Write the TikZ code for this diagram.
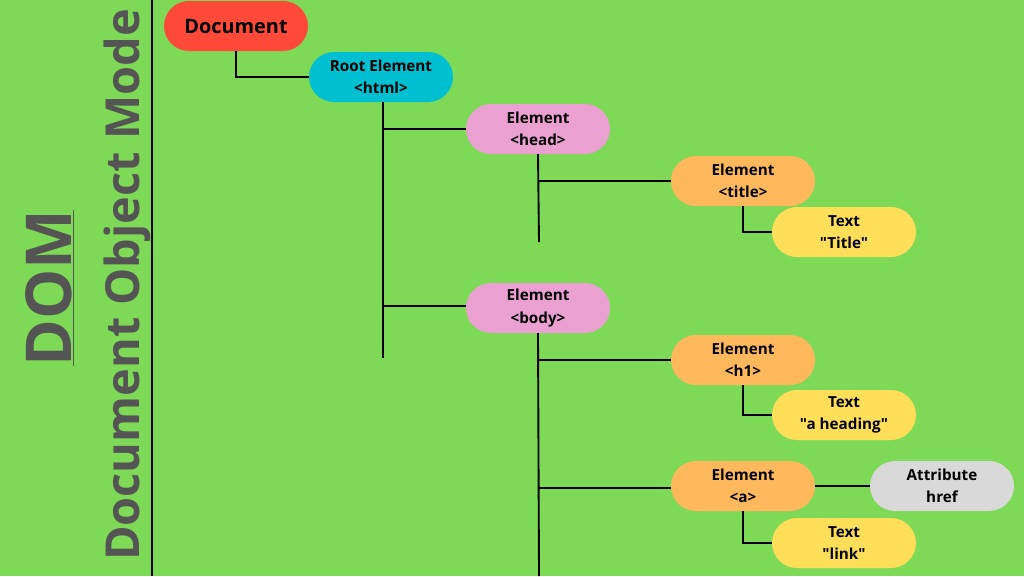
\documentclass[tikz,border=0pt]{standalone}
\usepackage{fontspec}
\setmainfont{Open Sans}[Ligatures=TeXOff]
\usetikzlibrary{shapes.misc}
\definecolor{bg}{HTML}{7ED957}
\definecolor{cred}{HTML}{FF4A3A}
\definecolor{ccyan}{HTML}{00BFD0}
\definecolor{cpink}{HTML}{EBA0D2}
\definecolor{corange}{HTML}{FFB85C}
\definecolor{cyellow}{HTML}{FFDE59}
\definecolor{cgray}{HTML}{D9D9D9}
\definecolor{dgray}{HTML}{545454}
\begin{document}
\begin{tikzpicture}[x=0.03cm,y=-0.03cm,
  pill/.style={rounded rectangle,minimum width=4.32cm,minimum height=1.5cm,inner sep=0pt,align=center,font=\bfseries\fontsize{13}{19}\selectfont,text=black},
  ln/.style={line width=1.6pt,black}]
\fill[bg] (0,0) rectangle (1024,576);
\useasboundingbox (0,0) rectangle (1024,576);
\draw[ln] (152,0) -- (152,576);
\node[rotate=90,font=\bfseries\fontsize{54}{54}\selectfont,text=dgray] (dom) at (50,288) {\underline{DOM}};
\node[rotate=90,font=\bfseries\fontsize{40}{40}\selectfont,text=dgray] (dom2) at (127,285) {Document Object Mode};
\node[pill,fill=cred,font=\bfseries\fontsize{17}{19}\selectfont] (doc) at (236,26) {Document};
\node[pill,fill=ccyan] (html) at (381,77) {Root Element\\<html>};
\node[pill,fill=cpink] (head) at (538,129) {Element\\<head>};
\node[pill,fill=corange] (title) at (743,181) {Element\\<title>};
\node[pill,fill=cyellow] (ttitle) at (844,232) {Text\\"Title"};
\node[pill,fill=cpink] (body) at (538,308) {Element\\<body>};
\node[pill,fill=corange] (h1) at (743,360) {Element\\<h1>};
\node[pill,fill=cyellow] (th1) at (844,415) {Text\\"a heading"};
\node[pill,fill=corange] (a) at (743,486) {Element\\<a>};
\node[pill,fill=cgray] (href) at (942,486) {Attribute\\href};
\node[pill,fill=cyellow] (ta) at (844,543) {Text\\"link"};
\coordinate (s1) at (383,102);
\coordinate (e1) at (383,358);
\coordinate (e2) at (539,242);
\coordinate (e3) at (539,576);
\draw[ln] (doc.south) |- (html.west);
\draw[ln] (s1) -- (e1);
\draw[ln] (383,129) -- (head.west);
\draw[ln] (383,306) -- (head.west |- 306,306);
\draw[ln] (head.south) -- (e2);
\draw[ln] (539,181) -- (title.west);
\draw[ln] (title.south) |- (ttitle.west);
\draw[ln] (body.south) -- (e3);
\draw[ln] (539,360) -- (h1.west);
\draw[ln] (539,488) -- (a.west |- 488,488);
\draw[ln] (h1.south) |- (th1.west);
\draw[ln] (a.south) |- (ta.west);
\draw[ln] (a.east) -- (href.west);
\end{tikzpicture}
\end{document}
